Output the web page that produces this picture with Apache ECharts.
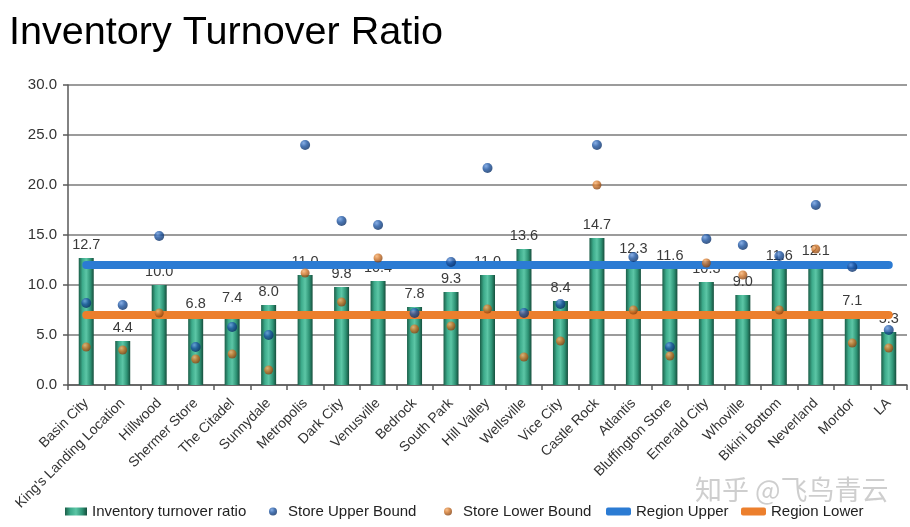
<!DOCTYPE html>
<html>
<head>
<meta charset="utf-8">
<script src="https://cdn.jsdelivr.net/npm/echarts@6/dist/echarts.min.js"></script>
<style>html,body{margin:0;padding:0;background:#fff}#c{width:910px;height:527px}</style>
</head>
<body>
<div id="c"></div>
<script>
var categories = ["Basin City","King's Landing Location","Hillwood","Shermer Store","The Citadel","Sunnydale","Metropolis","Dark City","Venusville","Bedrock","South Park","Hill Valley","Wellsville","Vice City","Castle Rock","Atlantis","Bluffington Store","Emerald City","Whoville","Bikini Bottom","Neverland","Mordor","LA"];
var turnover = [12.7,4.4,10.0,6.8,7.4,8.0,11.0,9.8,10.4,7.8,9.3,11.0,13.6,8.4,14.7,12.3,11.6,10.3,9.0,11.6,12.1,7.1,5.3];
var storeUpper = [8.2,8.0,14.9,3.8,5.8,5.0,24.0,16.4,16.0,7.2,12.3,21.7,7.2,8.1,24.0,12.8,3.8,14.6,14.0,12.9,18.0,11.8,5.5];
var storeLower = [3.8,3.5,7.2,2.6,3.1,1.5,11.2,8.3,12.7,5.6,5.9,7.6,2.8,4.4,20.0,7.5,2.9,12.2,11.0,7.5,13.6,4.2,3.7];
var regionUpper = categories.map(function(){return 12.0;});
var regionLower = categories.map(function(){return 7.0;});
var yTicks = {min:0, max:30, interval:5};

var font = 'Liberation Sans, Arial, sans-serif';
var chart = echarts.init(document.getElementById('c'));
var barColor = new echarts.graphic.LinearGradient(0,0,1,0,[
  {offset:0,color:'#1b5e48'},{offset:0.25,color:'#3dab8b'},{offset:0.5,color:'#5cc6a6'},
  {offset:0.78,color:'#2e9375'},{offset:1,color:'#164e3c'}]);
var blueDot = new echarts.graphic.RadialGradient(0.35,0.3,0.7,[
  {offset:0,color:'#6a9be0'},{offset:0.5,color:'#1c53a0'},{offset:1,color:'#0b3169'}]);
var orangeDot = new echarts.graphic.RadialGradient(0.35,0.3,0.7,[
  {offset:0,color:'#f6b070'},{offset:0.5,color:'#cf7428'},{offset:1,color:'#8a4614'}]);

function lg(name, icon, left, w) {
  return {left:left, top:499, itemWidth:w, itemHeight:8, icon:icon, data:[name],
    textStyle:{fontFamily:font,fontSize:15,color:'#222'}};
}

chart.setOption({
  animation:false,
  backgroundColor:'#fff',
  title:{text:'Inventory Turnover Ratio',left:4,top:8,
    textStyle:{fontFamily:font,fontSize:39.6,fontWeight:'normal',color:'#000'}},
  graphic:[{type:'text',left:695,top:476,silent:true,
    style:{text:'知乎 @飞鸟青云',font:'27px "Noto Sans CJK SC"',fill:'rgba(190,190,190,0.75)'}}],
  grid:{left:68,right:3,top:85,bottom:142,containLabel:false},
  legend:[
    lg('Inventory turnover ratio','rect',60,22),
    lg('Store Upper Bound','circle',264,20),
    lg('Store Lower Bound','circle',439,20),
    lg('Region Upper','roundRect',601,25),
    lg('Region Lower','roundRect',736,25)
  ],
  xAxis:{type:'category',data:categories,
    axisLine:{lineStyle:{color:'#595959',width:1.5}},
    axisTick:{show:true,length:5,lineStyle:{color:'#595959',width:1.5}},
    axisLabel:{rotate:45,interval:0,margin:16,fontFamily:font,fontSize:14,color:'#333'}},
  yAxis:{type:'value',min:yTicks.min,max:yTicks.max,interval:yTicks.interval,
    axisLine:{show:true,lineStyle:{color:'#595959',width:1.5}},
    axisTick:{show:true,length:5,lineStyle:{color:'#595959',width:1.5}},
    splitLine:{lineStyle:{color:'#7a7a7a',width:1.5}},
    axisLabel:{formatter:function(v){return v.toFixed(1);},margin:11,fontFamily:font,fontSize:15,color:'#333'}},
  series:[
    {name:'Inventory turnover ratio',type:'bar',data:turnover,barWidth:15,z:2,
      itemStyle:{color:barColor},
      label:{show:true,position:'top',distance:6,fontFamily:font,fontSize:14.5,color:'#3a3a3a',
        formatter:function(p){return p.value.toFixed(1);}}},
    {name:'Region Upper',type:'line',data:regionUpper,showSymbol:false,symbol:'none',z:3,
      itemStyle:{color:'#2b7bd3'},lineStyle:{color:'#2b7bd3',width:8,cap:'round'}},
    {name:'Region Lower',type:'line',data:regionLower,showSymbol:false,symbol:'none',z:3,
      itemStyle:{color:'#ec7f2d'},lineStyle:{color:'#ec7f2d',width:8,cap:'round'}},
    {name:'Store Upper Bound',type:'scatter',data:storeUpper,symbolSize:10,z:4,
      itemStyle:{color:blueDot}},
    {name:'Store Lower Bound',type:'scatter',data:storeLower,symbolSize:9,z:4,
      itemStyle:{color:orangeDot}}
  ]
});
</script>
</body>
</html>
